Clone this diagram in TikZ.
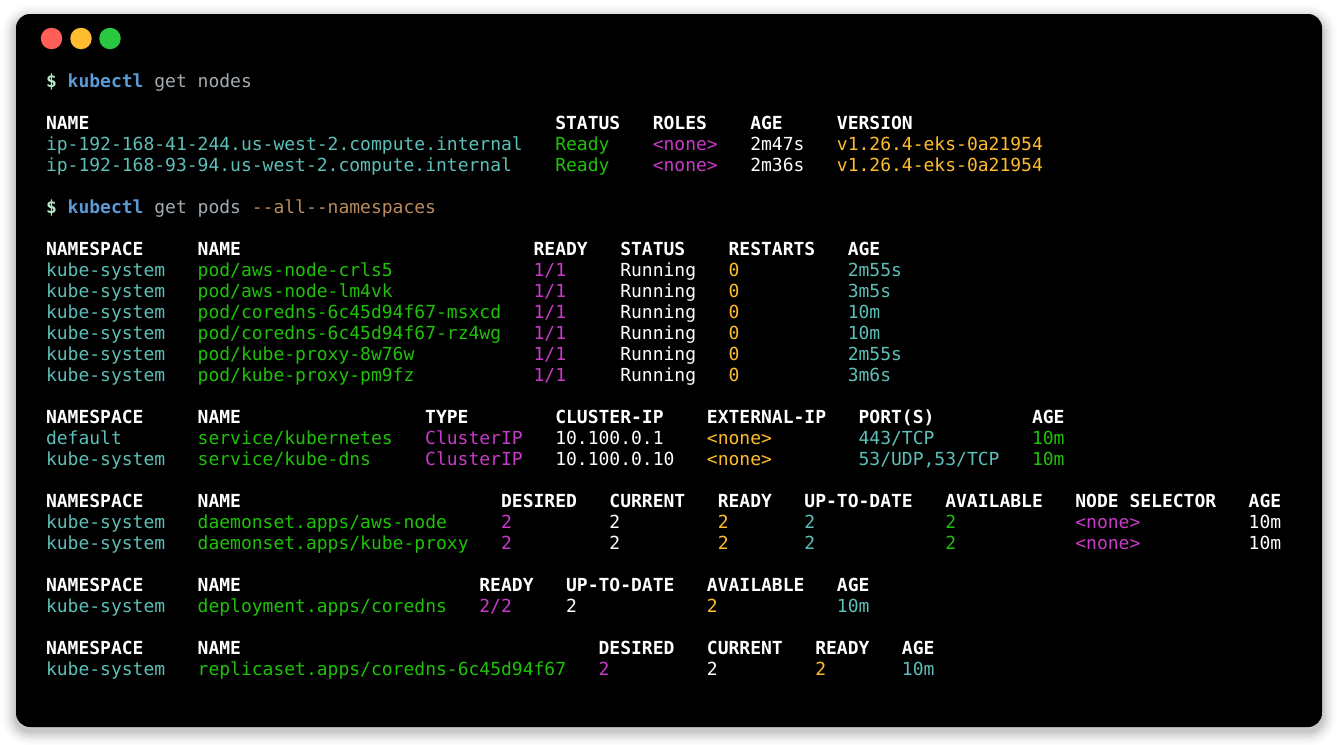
\documentclass[tikz,border=0pt]{standalone}
\usepackage{fontspec}
\setmonofont{DejaVu Sans Mono}
\definecolor{termteal}{HTML}{5CBFB8}
\definecolor{termgreen}{HTML}{1FC208}
\definecolor{termpink}{HTML}{C93AC9}
\definecolor{termyellow}{HTML}{FFBD2E}
\definecolor{termblue}{HTML}{5A9AD6}
\definecolor{termgray}{HTML}{A3ABB3}
\definecolor{termtan}{HTML}{B98B5E}
\definecolor{termdollar}{HTML}{B5E8C8}
\newcommand{\fs}{/}
\tikzset{
  cell/.style={anchor=base west,inner sep=0pt,outer sep=0pt,text=white,
    font=\ttfamily\fontsize{18}{21}\selectfont},
  head/.style={cell,font=\ttfamily\bfseries\fontsize{18}{21}\selectfont},
  dot/.style={circle,inner sep=0pt,minimum size=21.5pt}
}
% one row of the listing: row number, then column/colour/text
\newcommand{\termrow}[2]{%
  \foreach \c/\k/\t in {#2}
    \node[cell,text=\k] (cell-#1-\c) at ({46+10.835*\c},{87+21*#1}) {\t};
}
\newcommand{\headrow}[2]{%
  \foreach \c/\t in {#2}
    \node[head] (head-#1-\c) at ({46+10.835*\c},{87+21*#1}) {\t};
}
\newcommand{\promptrow}[2]{%
  \node[head,text=termdollar] (prompt-#1) at (46,{87+21*#1}) {\$};
  \node[head,text=termblue] (kubectl-#1) at ({46+10.835*2},{87+21*#1}) {kubectl};
  #2
}
\begin{document}
\begin{tikzpicture}[x=1pt,y=-1pt]
\useasboundingbox (0,0) rectangle (1337,744);
\fill[white] (0,0) rectangle (1337,744);

% shadow and window
\foreach \g in {15,...,1}
  \fill[black,opacity=.0015*(16-\g)+.003,rounded corners={14+\g}] ({16-\g},{19-\g}) rectangle ({1322+\g},{731+\g});
\fill[black,rounded corners=14] (16,14) rectangle (1322,727);

\node[dot,fill={rgb,255:red,255;green,95;blue,87}] (close) at (51.5,38.5) {};
\node[dot,fill={rgb,255:red,254;green,188;blue,46}] (minimize) at (81,38.5) {};
\node[dot,fill={rgb,255:red,40;green,200;blue,64}] (zoom) at (110,38.5) {};

\promptrow{0}{\node[cell,text=termgray] (args-0) at ({46+10.835*10},87) {get nodes};}
\headrow{2}{0/NAME,47/STATUS,56/ROLES,65/AGE,73/VERSION}
\termrow{3}{0/termteal/ip-192-168-41-244.us-west-2.compute.internal,47/termgreen/Ready,56/termpink/<none>,65/white/2m47s,73/termyellow/v1.26.4-eks-0a21954}
\termrow{4}{0/termteal/ip-192-168-93-94.us-west-2.compute.internal,47/termgreen/Ready,56/termpink/<none>,65/white/2m36s,73/termyellow/v1.26.4-eks-0a21954}

\promptrow{6}{\node[cell,text=termgray] (args-6) at ({46+10.835*10},{87+21*6}) {get pods};
  \node[cell,text=termtan] (flag-6) at ({46+10.835*19},{87+21*6}) {--all--namespaces};}
\headrow{8}{0/NAMESPACE,14/NAME,45/READY,53/STATUS,63/RESTARTS,74/AGE}
\termrow{9}{0/termteal/kube-system,14/termgreen/pod\fs aws-node-crls5,45/termpink/1\fs 1,53/white/Running,63/termyellow/0,74/termteal/2m55s}
\termrow{10}{0/termteal/kube-system,14/termgreen/pod\fs aws-node-lm4vk,45/termpink/1\fs 1,53/white/Running,63/termyellow/0,74/termteal/3m5s}
\termrow{11}{0/termteal/kube-system,14/termgreen/pod\fs coredns-6c45d94f67-msxcd,45/termpink/1\fs 1,53/white/Running,63/termyellow/0,74/termteal/10m}
\termrow{12}{0/termteal/kube-system,14/termgreen/pod\fs coredns-6c45d94f67-rz4wg,45/termpink/1\fs 1,53/white/Running,63/termyellow/0,74/termteal/10m}
\termrow{13}{0/termteal/kube-system,14/termgreen/pod\fs kube-proxy-8w76w,45/termpink/1\fs 1,53/white/Running,63/termyellow/0,74/termteal/2m55s}
\termrow{14}{0/termteal/kube-system,14/termgreen/pod\fs kube-proxy-pm9fz,45/termpink/1\fs 1,53/white/Running,63/termyellow/0,74/termteal/3m6s}

\headrow{16}{0/NAMESPACE,14/NAME,35/TYPE,47/CLUSTER-IP,61/EXTERNAL-IP,75/PORT(S),91/AGE}
\termrow{17}{0/termteal/default,14/termgreen/service\fs kubernetes,35/termpink/ClusterIP,47/white/10.100.0.1,61/termyellow/<none>,75/termteal/443\fs TCP,91/termgreen/10m}
\termrow{18}{0/termteal/kube-system,14/termgreen/service\fs kube-dns,35/termpink/ClusterIP,47/white/10.100.0.10,61/termyellow/<none>,75/termteal/{53\fs UDP,53\fs TCP},91/termgreen/10m}

\headrow{20}{0/NAMESPACE,14/NAME,42/DESIRED,52/CURRENT,62/READY,70/UP-TO-DATE,83/AVAILABLE,95/NODE SELECTOR,111/AGE}
\termrow{21}{0/termteal/kube-system,14/termgreen/daemonset.apps\fs aws-node,42/termpink/2,52/white/2,62/termyellow/2,70/termteal/2,83/termgreen/2,95/termpink/<none>,111/white/10m}
\termrow{22}{0/termteal/kube-system,14/termgreen/daemonset.apps\fs kube-proxy,42/termpink/2,52/white/2,62/termyellow/2,70/termteal/2,83/termgreen/2,95/termpink/<none>,111/white/10m}

\headrow{24}{0/NAMESPACE,14/NAME,40/READY,48/UP-TO-DATE,61/AVAILABLE,73/AGE}
\termrow{25}{0/termteal/kube-system,14/termgreen/deployment.apps\fs coredns,40/termpink/2\fs 2,48/white/2,61/termyellow/2,73/termteal/10m}

\headrow{27}{0/NAMESPACE,14/NAME,51/DESIRED,61/CURRENT,71/READY,79/AGE}
\termrow{28}{0/termteal/kube-system,14/termgreen/replicaset.apps\fs coredns-6c45d94f67,51/termpink/2,61/white/2,71/termyellow/2,79/termteal/10m}
\end{tikzpicture}
\end{document}
